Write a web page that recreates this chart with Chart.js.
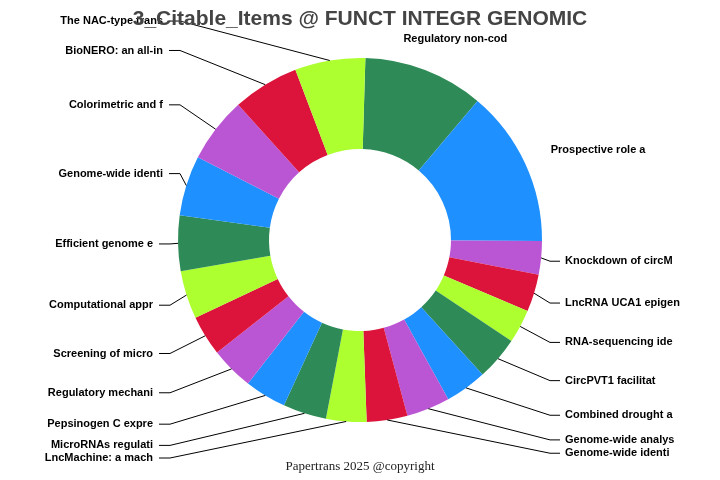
<!DOCTYPE html>
<html><head><meta charset="utf-8">
<script src="https://cdn.jsdelivr.net/npm/chart.js@4.4.1/dist/chart.umd.min.js"></script>
<style>html,body{margin:0;padding:0;background:#fff;}#wrap{width:720px;height:480px;position:relative;}</style>
</head><body><div id="wrap"><canvas id="c" width="720" height="480"></canvas></div>
<script>
const titleText = "3_Citable_Items @ FUNCT INTEGR GENOMIC";
const footerText = "Papertrans 2025 @copyright";
const categories = [
  "Regulatory non-cod", "Prospective role a", "Knockdown of circM", "LncRNA UCA1 epigen",
  "RNA-sequencing ide", "CircPVT1 facilitat", "Combined drought a", "Genome-wide analys",
  "Genome-wide identi", "LncMachine: a mach", "MicroRNAs regulati", "Pepsinogen C expre",
  "Regulatory mechani", "Screening of micro", "Computational appr", "Efficient genome e",
  "Genome-wide identi", "Colorimetric and f", "BioNERO: an all-in", "The NAC-type trans"
];
const values = [38.5, 50.1, 10.7, 12.0, 10.7, 14.0, 13.3, 13.9, 13.0, 12.9,
                13.9, 13.3, 13.8, 12.9, 15.4, 17.7, 19.2, 21.0, 21.2, 22.5];
const palette = ["#2E8B57", "#1E90FF", "#BA55D3", "#DC143C", "#ADFF2F"];
const sliceColors = categories.map((_, i) => palette[i % palette.length]);

const outLabels = {
  id: 'outLabels',
  afterDraw(chart) {
    const ctx = chart.ctx;
    const meta = chart.getDatasetMeta(0);
    const items = [];
    meta.data.forEach((arc, i) => {
      const p = arc.getProps(['x', 'y', 'startAngle', 'endAngle', 'outerRadius'], true);
      const a = (p.startAngle + p.endAngle) / 2;
      const c = Math.cos(a), s = Math.sin(a);
      const R = p.outerRadius;
      const free = (p.endAngle - p.startAngle) > Math.PI / 6;
      const rl = R * (free ? 1.18 : (s < 0 ? 1.22 : 1.185));
      items.push({
        cx: p.x, cy: p.y, R, c, s,
        px: p.x + R * c, py: p.y + R * s,
        lx: p.x + rl * c, ly: p.y + rl * s,
        side: c >= 0 ? 1 : -1,
        free,
        text: chart.data.labels[i]
      });
    });
    [1, -1].forEach(side => {
      const arr = items.filter(o => !o.free && o.side === side).sort((p, q) => p.ly - q.ly);
      for (let k = 1; k < arr.length; k++) {
        if (arr[k].ly - arr[k - 1].ly < 12.6) arr[k].ly = arr[k - 1].ly + 12.6;
      }
    });
    ctx.save();
    ctx.font = 'bold 11px "Liberation Sans", Arial, sans-serif';
    ctx.fillStyle = '#000';
    ctx.strokeStyle = '#000';
    ctx.lineWidth = 1;
    ctx.textBaseline = 'middle';
    items.forEach(o => {
      if (o.free) {
        const w = ctx.measureText(o.text).width;
        ctx.textAlign = 'center';
        ctx.fillText(o.text, o.lx + (w / 2) * o.c, o.ly);
        return;
      }
      const upper = o.s < 0;
      const kneeX = o.cx + o.side * (o.R + (upper ? -2 : 8));
      const endX = kneeX + o.side * (o.side > 0 ? 10 : 11);
      ctx.beginPath();
      ctx.moveTo(o.px, o.py);
      ctx.lineTo(kneeX, o.ly);
      ctx.lineTo(endX, o.ly);
      ctx.stroke();
      ctx.textAlign = o.side > 0 ? 'left' : 'right';
      ctx.fillText(o.text, endX + o.side * (o.side > 0 ? 5 : 6), o.ly);
    });
    // title
    ctx.textBaseline = 'alphabetic';
    ctx.textAlign = 'center';
    ctx.font = 'bold 21px "Liberation Sans", Arial, sans-serif';
    ctx.fillStyle = '#444444';
    ctx.fillText(titleText, chart.width / 2, 25);
    // footer
    ctx.font = '13px "Liberation Serif", "Times New Roman", serif';
    ctx.fillStyle = '#222';
    ctx.fillText(footerText, chart.width / 2, 470);
    ctx.restore();
  }
};

new Chart(document.getElementById('c'), {
  type: 'doughnut',
  data: {
    labels: categories,
    datasets: [{
      data: values,
      backgroundColor: sliceColors,
      borderWidth: 0,
      hoverOffset: 0
    }]
  },
  options: {
    responsive: false,
    animation: false,
    events: [],
    cutout: '50%',
    rotation: 1.7,
    layout: { padding: { top: 58, bottom: 58, left: 0, right: 0 } },
    plugins: {
      legend: { display: false },
      tooltip: { enabled: false },
      title: { display: false }
    }
  },
  plugins: [outLabels]
});
</script>
</body></html>
